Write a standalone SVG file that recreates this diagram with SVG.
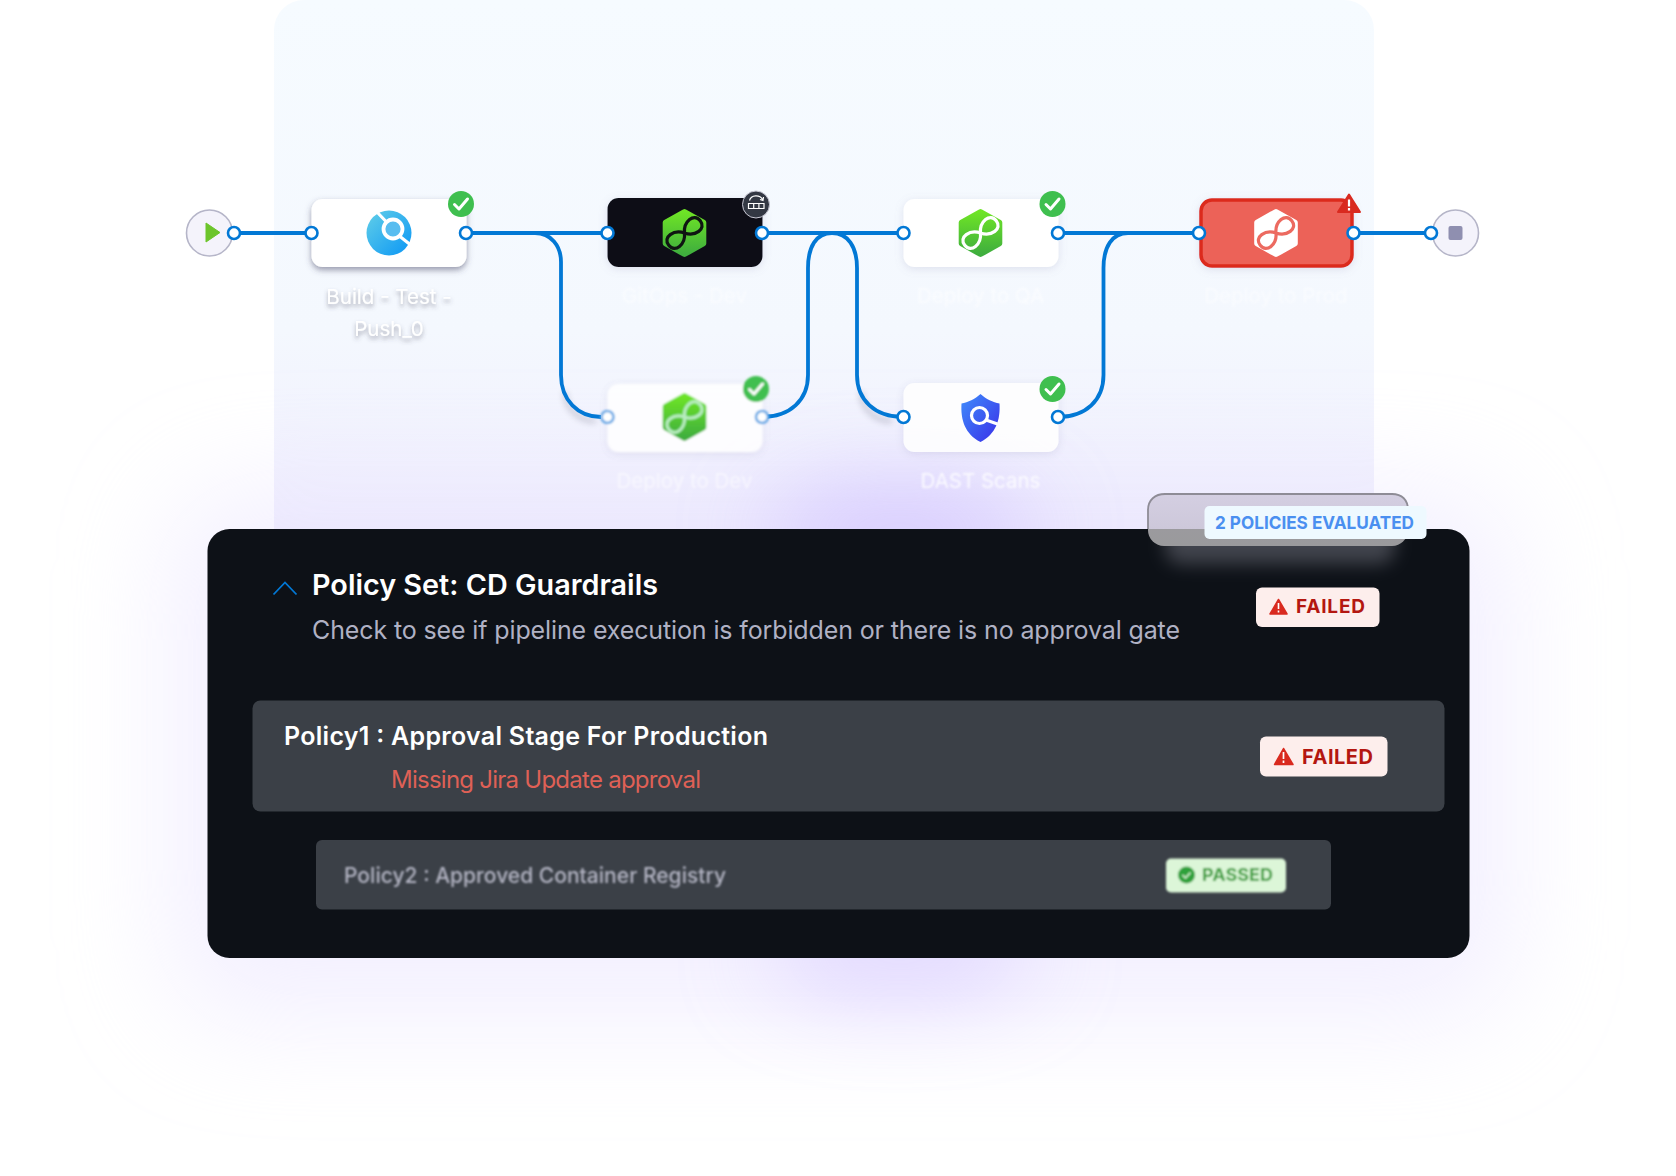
<svg xmlns="http://www.w3.org/2000/svg" width="1676" height="1176" viewBox="0 0 1676 1176">
<style>
text{font-family:Inter,"Liberation Sans",sans-serif}
.conn{fill:none;stroke:#0278d5;stroke-width:3.8}
.port{fill:#fff;stroke:#0278d5;stroke-width:2.6}
.card{fill:#fff}
.lbl{fill:#fff;font-size:20.5px;text-anchor:middle;opacity:.75}
.chk{fill:none;stroke:#fff;stroke-width:3;stroke-linecap:round;stroke-linejoin:round}
.inf{fill:none;stroke-width:3.2}
.fail{font-weight:700;font-size:19px;fill:#b41710}
</style>
<defs>
<linearGradient id="panelBg" x1="0" y1="0" x2="0" y2="1"><stop offset="0" stop-color="#f6fbff"/><stop offset=".55" stop-color="#f4f8fe"/><stop offset="1" stop-color="#eeeafd"/></linearGradient>
<linearGradient id="hexG" x1="0" y1="0" x2="0" y2="1"><stop offset="0" stop-color="#6ee426"/><stop offset="1" stop-color="#3fae3e"/></linearGradient>
<linearGradient id="ciG" x1="0" y1="0" x2="1" y2="1"><stop offset="0" stop-color="#62cfe8"/><stop offset="1" stop-color="#0a96f5"/></linearGradient>
<linearGradient id="shG" x1="0" y1="0" x2="1" y2="1"><stop offset="0" stop-color="#3f8dfb"/><stop offset="1" stop-color="#3a2ee8"/></linearGradient>
<linearGradient id="tabG" gradientUnits="userSpaceOnUse" x1="0" y1="493" x2="0" y2="546"><stop offset="0" stop-color="#d4cfe2"/><stop offset=".68" stop-color="#cdc8da"/><stop offset=".68" stop-color="#9b9a9e"/><stop offset="1" stop-color="#9a9a9c"/></linearGradient>
<filter id="b60" filterUnits="userSpaceOnUse" x="-200" y="100" width="2100" height="1300"><feGaussianBlur stdDeviation="55"/></filter>
<filter id="b35" filterUnits="userSpaceOnUse" x="300" y="200" width="1200" height="1000"><feGaussianBlur stdDeviation="45"/></filter>
<filter id="b10" x="-20%" y="-100%" width="140%" height="300%"><feGaussianBlur stdDeviation="9"/></filter>
<filter id="b3" x="-20%" y="-200%" width="140%" height="500%"><feGaussianBlur stdDeviation="3"/></filter>
<filter id="b1" x="-10%" y="-20%" width="120%" height="140%"><feGaussianBlur stdDeviation="1.2"/></filter>
<filter id="bt" x="-10%" y="-30%" width="120%" height="160%"><feGaussianBlur stdDeviation=".8"/></filter>
<filter id="sh" x="-15%" y="-20%" width="130%" height="160%"><feDropShadow dx="0" dy="3" stdDeviation="3" flood-color="#4a4a68" flood-opacity=".55"/></filter>
<filter id="sh2" x="-15%" y="-20%" width="130%" height="160%"><feDropShadow dx="0" dy="2" stdDeviation="4" flood-color="#8a88b0" flood-opacity=".22"/></filter>
<filter id="ts" x="-15%" y="-30%" width="130%" height="190%"><feDropShadow dx="0" dy="3" stdDeviation="2.200" flood-color="#4a4a60" flood-opacity=".5"/></filter>
<g id="hex"><path d="M0-21 L18.800-10.500 V10.500 L0 21 L-18.800 10.500 V-10.500Z" stroke-width="6" stroke-linejoin="round"/></g>
<path id="infp" d="M0 0C6-9.500 20-10.500 20 0C20 10.500 6 9.500 0 0C-6-9.500-20-10.500-20 0C-20 10.500-6 9.500 0 0Z" transform="rotate(-38)"/>
<g id="ok"><circle r="13" fill="#3fbf4f"/><path class="chk" d="M-6.500 0.500L-2 5L6.500-5"/></g>
</defs>
<rect width="1676" height="1176" fill="#fff"/>
<rect x="274" y="0" width="1100" height="600" rx="30" fill="url(#panelBg)"/>
<rect x="170" y="490" width="1340" height="530" rx="70" fill="#e7e1ff" opacity=".5" filter="url(#b60)"/>
<ellipse cx="900" cy="530" rx="140" ry="45" fill="#c6b4ff" opacity=".6" filter="url(#b35)"/>
<ellipse cx="900" cy="955" rx="140" ry="40" fill="#c6b4ff" opacity=".5" filter="url(#b35)"/>

<g id="connectors">
<path d="M234 236H311M466 236H535" fill="none" stroke="#55556a" stroke-width="4" opacity=".45" filter="url(#b3)"/>
<path d="M565 392C565 408 578 421 596 421M861 392C861 408 874 421 892 421" fill="none" stroke="#55556a" stroke-width="4" opacity=".3" filter="url(#b3)"/>
<path class="conn" d="M234 233H311M466 233H607M535 233C551 233 561 246 561 262V375C561 400 578 417 601 417"/>
<path class="conn" d="M762 233H903M762 417C790 417 808 400 808 375V268C808 247 816 233 832 233C848 233 857 247 857 268V375C857 400 875 417 903 417"/>
<path class="conn" d="M1058 233H1199M1058 417C1086 417 1103.500 400 1103.500 375V268C1103.500 247 1112 233 1128 233"/>
<path class="conn" d="M1353 233H1431"/>
</g>

<g id="start"><circle cx="209.500" cy="233" r="23" fill="#f4f3fb" stroke="#b5b5c8" stroke-width="1.600"/><path d="M206 223L220 232.500L206 242Z" fill="#6cc52b" stroke="#6cc52b" stroke-linejoin="round"/></g>
<circle class="port" cx="234" cy="233" r="6"/>

<g id="node-build">
<rect class="card" x="311.500" y="199" width="155" height="68" rx="11" filter="url(#sh)"/>
<circle cx="389" cy="233" r="22.500" fill="url(#ciG)"/>
<circle cx="393" cy="229" r="9.500" fill="#58bdf0" stroke="#fff" stroke-width="3.800"/>
<path d="M386 221.500L376 211M400 236.500L412 246" stroke="#fff" stroke-width="3.200" fill="none"/>
<use href="#ok" x="461" y="204"/>
<circle class="port" cx="311.500" cy="233" r="6"/><circle class="port" cx="466" cy="233" r="6"/>
<g filter="url(#ts)"><text x="389" y="303.500" class="lbl" style="opacity:1">Build - Test -</text><text x="389" y="335.500" class="lbl" style="opacity:1">Push_0</text></g>
</g>

<g id="node-gitops">
<rect x="607.500" y="198" width="155" height="69" rx="11" fill="#0d1117" filter="url(#sh2)"/>
<use href="#hex" x="684.500" y="233" fill="url(#hexG)" stroke="url(#hexG)"/>
<use href="#infp" x="684.500" y="233" class="inf" stroke="#0f1512"/>
<circle cx="756" cy="204.500" r="13.500" fill="#333843" stroke="#c8c8d4" stroke-width="1"/>
<path d="M749.500 200.500C751 194.500 760 194.500 762.500 199.500M760 199.500L763 200.500L763.500 197M748.500 203.500H764V208.500H748.500ZM753.700 203.500V208.500M758.900 203.500V208.500" fill="none" stroke="#fff" stroke-width="1.200"/>
<circle class="port" cx="607.500" cy="233" r="6"/><circle class="port" cx="762" cy="233" r="6"/>
<text x="684.500" y="303" class="lbl" style="opacity:.55" filter="url(#bt)">GitOps - Dev</text>
</g>

<g id="node-deploy-dev" filter="url(#b1)">
<rect x="607.500" y="384" width="155" height="68" rx="11" fill="#fff" opacity=".85" filter="url(#sh2)"/>
<use href="#hex" x="684.500" y="417" fill="url(#hexG)" stroke="url(#hexG)"/>
<use href="#infp" x="684.500" y="417" class="inf" stroke="#b8ecc0"/>
<use href="#ok" x="756" y="389"/>
<circle cx="607.500" cy="417" r="6" fill="#fff" stroke="#6aaae6" stroke-width="2.600"/><circle cx="762" cy="417" r="6" fill="#fff" stroke="#6aaae6" stroke-width="2.600"/>
<text x="684.500" y="488" class="lbl" style="opacity:.55">Deploy to Dev</text>
</g>

<g id="node-deploy-qa">
<rect class="card" x="903.500" y="199" width="155" height="68" rx="11" filter="url(#sh2)"/>
<use href="#hex" x="980.500" y="233" fill="url(#hexG)" stroke="url(#hexG)"/>
<use href="#infp" x="980.500" y="233" class="inf" stroke="#fff"/>
<use href="#ok" x="1052.500" y="204"/>
<circle class="port" cx="903.500" cy="233" r="6"/><circle class="port" cx="1058" cy="233" r="6"/>
<text x="980.500" y="303" class="lbl" style="opacity:.6" filter="url(#bt)">Deploy to QA</text>
</g>

<g id="node-dast">
<rect x="903.500" y="383" width="155" height="69" rx="11" fill="#fff" opacity=".88" filter="url(#sh2)"/>
<path d="M980.500 394C986 399 993 402.500 999.500 403.500C1000.500 420 996 434 980.500 442C965 434 960.500 420 961.500 403.500C968 402.500 975 399 980.500 394Z" fill="url(#shG)"/>
<circle cx="979.500" cy="415.500" r="8" fill="none" stroke="#fff" stroke-width="3.200"/><path d="M986 420L997.500 424" stroke="#fff" stroke-width="3"/>
<use href="#ok" x="1052.500" y="389"/>
<circle class="port" cx="903.500" cy="417" r="6"/><circle class="port" cx="1058" cy="417" r="6"/>
<text x="980.500" y="488" class="lbl" style="opacity:.85" filter="url(#bt)">DAST Scans</text>
</g>

<g id="node-deploy-prod">
<rect x="1201" y="200" width="151" height="66" rx="11" fill="#ec6259" stroke="#dc2b1e" stroke-width="3.500" filter="url(#sh2)"/>
<use href="#hex" x="1276" y="233" fill="#fff" stroke="#fff"/>
<use href="#infp" x="1276" y="233" class="inf" stroke="#ec6a60"/>
<path d="M1349 194.500L1360 212H1338Z" fill="#d92a1f" stroke="#d92a1f" stroke-width="2" stroke-linejoin="round"/>
<path d="M1349 199.500V206.500M1349 208V210.500" stroke="#fff" stroke-width="2.200" fill="none"/>
<circle class="port" cx="1199" cy="233" r="6"/><circle class="port" cx="1353.500" cy="233" r="6"/>
<text x="1276" y="303" class="lbl" style="opacity:.5" filter="url(#bt)">Deploy to Prod</text>
</g>

<g id="end"><circle cx="1455.500" cy="233" r="23" fill="#f4f3fb" stroke="#b5b5c8" stroke-width="1.600"/><rect x="1448.500" y="226" width="14" height="14" rx="2" fill="#8f8fb0"/></g>
<circle class="port" cx="1431" cy="233" r="6"/>

<g id="panel">
<rect x="207.500" y="529" width="1262" height="429" rx="22" fill="#0d1117"/>
<rect x="1165" y="520" width="230" height="44" rx="16" fill="#c9c9d8" opacity=".28" filter="url(#b10)"/>
<rect x="1148" y="494" width="260" height="52" rx="16" fill="url(#tabG)"/>
<path d="M1148 529V510C1148 500 1155 494 1165 494H1392C1402 494 1408 500 1408 510V529" fill="none" stroke="#8e8c96" stroke-width="1.800"/>
<rect x="1204.500" y="506" width="222" height="33" rx="5" fill="#eef9ff"/>
<text x="1215" y="529" font-size="18" font-weight="700" fill="#4a8ff0" textLength="199" lengthAdjust="spacingAndGlyphs">2 POLICIES EVALUATED</text>

<path d="M273.500 594.500L285 582.500L296.500 594.500" fill="none" stroke="#0278d5" stroke-width="1.800"/>
<text x="312" y="595" font-size="28.500" font-weight="600" fill="#fff" textLength="346" lengthAdjust="spacingAndGlyphs">Policy Set: CD Guardrails</text>
<text x="312" y="639" font-size="25" fill="#b0b1c4" textLength="868">Check to see if pipeline execution is forbidden or there is no approval gate</text>

<g id="badge-set"><rect x="1256" y="587.500" width="123.500" height="39.500" rx="6" fill="#fdeeec"/><path d="M1278.500 599.500L1287 614H1270Z" fill="#d92a1f" stroke="#d92a1f" stroke-width="1.500" stroke-linejoin="round"/><path d="M1278.500 603V609M1278.500 610.500V612.500" stroke="#fff" stroke-width="1.600"/><text x="1296" y="613" class="fail" textLength="69">FAILED</text></g>

<g id="policy1">
<rect x="252.500" y="700.500" width="1192" height="111" rx="8" fill="#3b4047"/>
<text x="284" y="745" font-size="25" font-weight="600" fill="#fff" textLength="484">Policy1 : Approval Stage For Production</text>
<text x="391" y="788" font-size="24" fill="#df6056" textLength="310">Missing Jira Update approval</text>
<rect x="1260" y="736.500" width="127.500" height="40" rx="6" fill="#fdeeec"/><path d="M1283.500 748.500L1293 764.500H1274.500Z" fill="#d92a1f" stroke="#d92a1f" stroke-width="1.500" stroke-linejoin="round"/><path d="M1283.500 752V759M1283.500 760.500V763" stroke="#fff" stroke-width="1.700"/><text x="1302" y="764" class="fail" textLength="71" style="font-size:20px">FAILED</text>
</g>

<g id="policy2">
<rect x="316" y="840" width="1015" height="69.500" rx="6" fill="#3b4047"/>
<text x="344" y="883" font-size="21" font-weight="500" fill="#b4b5c4" textLength="382" filter="url(#bt)">Policy2 : Approved Container Registry</text>
<g filter="url(#bt)"><rect x="1166" y="858.500" width="120" height="34" rx="5" fill="#dcf6d8"/><circle cx="1186.500" cy="875" r="8.500" fill="#2fa13a"/><path d="M1182.500 875L1185.500 878L1190.500 872.500" stroke="#dcf6d8" stroke-width="1.500" fill="none"/><text x="1202" y="881" font-size="18" font-weight="700" fill="#3b9e3b" textLength="71">PASSED</text></g>
</g>
</g>
</svg>
